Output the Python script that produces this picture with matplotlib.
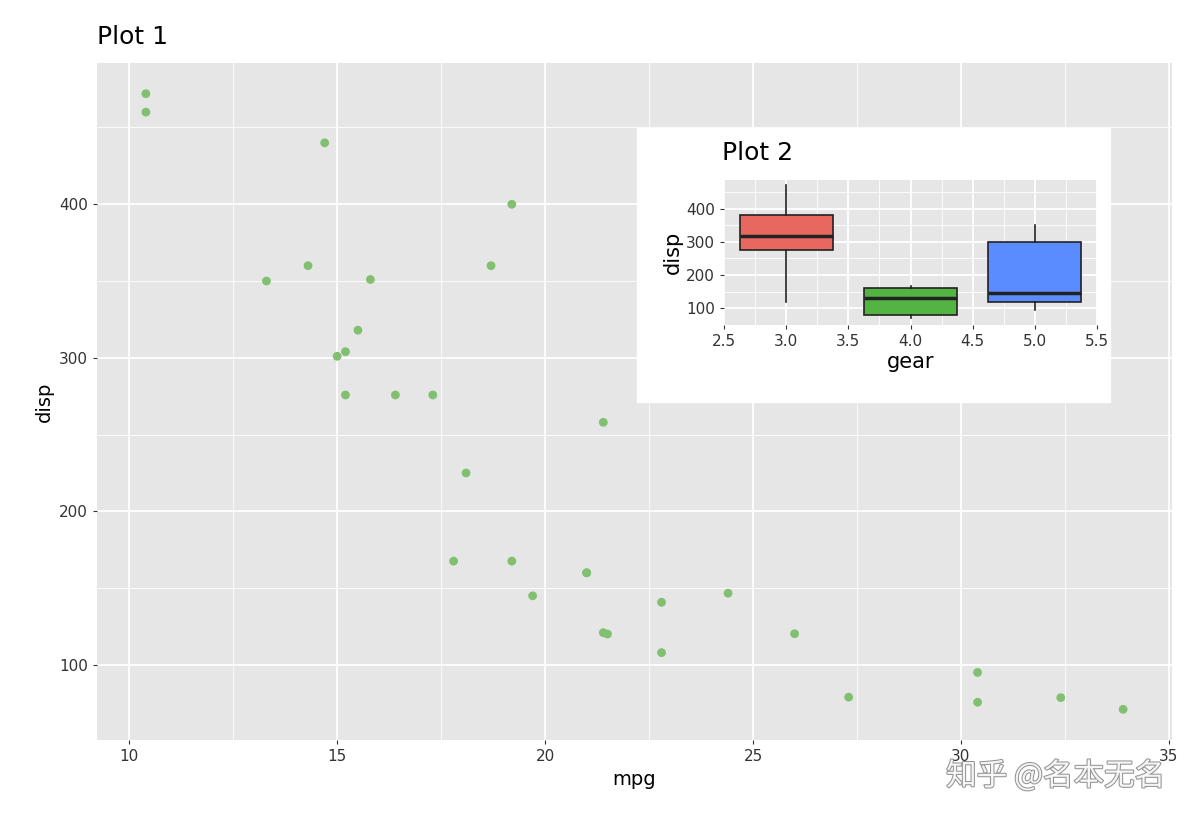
import numpy as np
import matplotlib.pyplot as plt
from matplotlib.ticker import MultipleLocator

plt.rcParams['font.family'] = ['DejaVu Sans', 'Noto Sans CJK SC']

# mtcars
mpg = [21.0, 21.0, 22.8, 21.4, 18.7, 18.1, 14.3, 24.4, 22.8, 19.2, 17.8, 16.4, 17.3, 15.2,
       10.4, 10.4, 14.7, 32.4, 30.4, 33.9, 21.5, 15.5, 15.2, 13.3, 19.2, 27.3, 26.0, 30.4,
       15.8, 19.7, 15.0, 21.4]
disp = [160, 160, 108, 258, 360, 225, 360, 146.7, 140.8, 167.6, 167.6, 275.8, 275.8, 275.8,
        472, 460, 440, 78.7, 75.7, 71.1, 120.1, 318, 304, 350, 400, 79, 120.3, 95.1,
        351, 145, 301, 121]
gear = [4, 4, 4, 3, 3, 3, 3, 4, 4, 4, 4, 3, 3, 3, 3, 3, 3, 4, 4, 4, 3, 3, 3, 3, 3, 4, 5, 5,
        5, 5, 5, 4]
gear_levels = [3, 4, 5]
box_colors = ['#e8685f', '#53b443', '#5b8cff']


def gg_style(ax, fs):
    ax.set_facecolor('#e6e6e6')
    for s in ax.spines.values():
        s.set_visible(False)
    ax.grid(which='major', color='white', lw=1.3)
    ax.grid(which='minor', color='white', lw=0.6)
    ax.set_axisbelow(True)
    ax.tick_params(which='major', colors='#333333', labelsize=fs, length=3)
    ax.tick_params(which='minor', length=0)


fig = plt.figure(figsize=(12, 8.24), dpi=100)
ax = fig.add_axes([97/1200, 1-740/824, (1172-97)/1200, (740-63)/824])
gg_style(ax, 11)
ax.scatter(mpg, disp, s=40, color='#80c070', edgecolors='none', zorder=3)
ax.set_xlim(9.225, 35.075)
ax.set_ylim(51.1, 492)
ax.xaxis.set_major_locator(MultipleLocator(5))
ax.xaxis.set_minor_locator(MultipleLocator(2.5))
ax.yaxis.set_major_locator(MultipleLocator(100))
ax.yaxis.set_minor_locator(MultipleLocator(50))
ax.set_xlabel('mpg', fontsize=14, labelpad=4)
ax.set_ylabel('disp', fontsize=14, labelpad=4)
fig.text(97/1200, 1-37/824, 'Plot 1', fontsize=18, va='center')

# inset
fig.patches.append(plt.Rectangle((637/1200, 1-402/824), 473/1200, 274/824,
                                 transform=fig.transFigure, color='white', zorder=5))
ax2 = fig.add_axes([724/1200, 1-325/824, (1097-724)/1200, (325-180)/824], zorder=6)
gg_style(ax2, 11)
groups = [[d for d, g in zip(disp, gear) if g == lv] for lv in gear_levels]
bp = ax2.boxplot(groups, positions=gear_levels, widths=0.75, patch_artist=True,
                 whis=1.5, showfliers=False, manage_ticks=False)
for p, c in zip(bp['boxes'], box_colors):
    p.set_facecolor(c)
    p.set_edgecolor('#222222')
    p.set_linewidth(1.2)
for m in bp['medians']:
    m.set_color('#222222')
    m.set_linewidth(2.5)
for w in bp['whiskers']:
    w.set_color('#222222')
    w.set_linewidth(1.2)
for c in bp['caps']:
    c.set_visible(False)
ax2.set_xlim(2.5, 5.5)
ax2.set_ylim(50, 486)
ax2.xaxis.set_major_locator(MultipleLocator(0.5))
ax2.xaxis.set_minor_locator(MultipleLocator(0.25))
ax2.yaxis.set_major_locator(MultipleLocator(100))
ax2.yaxis.set_minor_locator(MultipleLocator(50))
ax2.xaxis.set_major_formatter(lambda v, p: f'{v:.1f}')
ax2.set_xlabel('gear', fontsize=15, labelpad=2)
ax2.set_ylabel('disp', fontsize=15, labelpad=2)
fig.text(722/1200, 1-153/824, 'Plot 2', fontsize=18, va='center', zorder=7)

fig.text(1165/1200, 1-776/824, '知乎 @名本无名', fontsize=22, color='white', alpha=0.9,
         ha='right', va='center', family=['Noto Sans CJK SC', 'DejaVu Sans'],
         path_effects=[__import__('matplotlib.patheffects', fromlist=['x']).withStroke(linewidth=1.5, foreground='#888888')])

fig.savefig('out.png', dpi=100)
